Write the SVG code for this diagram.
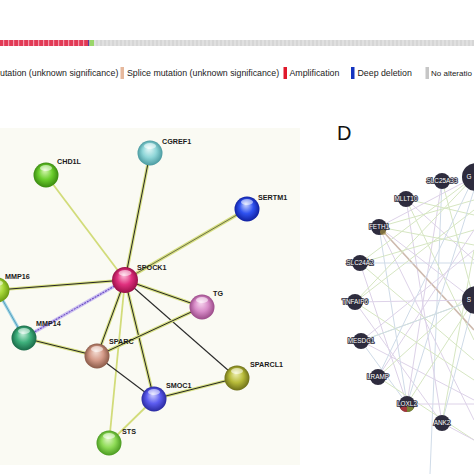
<svg xmlns="http://www.w3.org/2000/svg" width="474" height="474" viewBox="0 0 474 474">
<style>
.lg{font-family:"Liberation Sans",Arial,sans-serif;font-size:8.8px;fill:#222}
.nl{font-family:"Liberation Sans",Arial,sans-serif;font-size:7.2px;font-weight:bold;fill:#1a1a1a}
.dl{font-family:"Liberation Sans",Arial,sans-serif;font-size:6.4px;fill:#fff;stroke:#2a2838;stroke-width:1.6px;paint-order:stroke;text-anchor:middle}
.yb1{stroke:#d6df80;stroke-width:3.2;fill:none}
.yb2{stroke:#262626;stroke-width:1;fill:none}
.y{stroke:#d2dc7a;stroke-width:1.8;fill:none}
.k{stroke:#2a2a2a;stroke-width:1.1;fill:none}
.dn{fill:#2e2c3e}
.e1{stroke:#d6e6c2;stroke-width:1;fill:none}
.e2{stroke:#ddd2e8;stroke-width:1;fill:none}
.e3{stroke:#cfdbe8;stroke-width:1;fill:none}
.hl{fill:#fff;opacity:0.55}
</style>
<defs>
<pattern id="pr" width="5" height="6" patternUnits="userSpaceOnUse"><rect width="5" height="6" fill="#e23a55"/><rect x="3" width="1.2" height="6" fill="#f39bb0"/></pattern>
<pattern id="pg" width="4" height="6" patternUnits="userSpaceOnUse"><rect width="4" height="6" fill="#d6d6d6"/><rect x="2.5" width="1" height="6" fill="#ebebeb"/></pattern>
<radialGradient id="gCG" fx="0.45" fy="0.3"><stop offset="0" stop-color="#eafafa"/><stop offset="0.55" stop-color="#8fd6d8"/><stop offset="1" stop-color="#4a9aa0"/></radialGradient>
<radialGradient id="gCH" fx="0.45" fy="0.3"><stop offset="0" stop-color="#dcf8b8"/><stop offset="0.55" stop-color="#6ccf2e"/><stop offset="1" stop-color="#3a8a10"/></radialGradient>
<radialGradient id="gSE" fx="0.45" fy="0.3"><stop offset="0" stop-color="#d0daff"/><stop offset="0.55" stop-color="#2f52f0"/><stop offset="1" stop-color="#1020a0"/></radialGradient>
<radialGradient id="gSP" fx="0.45" fy="0.3"><stop offset="0" stop-color="#ffc4de"/><stop offset="0.55" stop-color="#e0307e"/><stop offset="1" stop-color="#9a1048"/></radialGradient>
<radialGradient id="gM16" fx="0.45" fy="0.3"><stop offset="0" stop-color="#eef8c0"/><stop offset="0.55" stop-color="#a8d93a"/><stop offset="1" stop-color="#6a9a10"/></radialGradient>
<radialGradient id="gM14" fx="0.45" fy="0.3"><stop offset="0" stop-color="#ccf2e0"/><stop offset="0.55" stop-color="#3eb07c"/><stop offset="1" stop-color="#1a6a48"/></radialGradient>
<radialGradient id="gSC" fx="0.45" fy="0.3"><stop offset="0" stop-color="#f6e2da"/><stop offset="0.55" stop-color="#d49a88"/><stop offset="1" stop-color="#8a5a48"/></radialGradient>
<radialGradient id="gTG" fx="0.45" fy="0.3"><stop offset="0" stop-color="#fadcf2"/><stop offset="0.55" stop-color="#d88cc8"/><stop offset="1" stop-color="#9a4a88"/></radialGradient>
<radialGradient id="gSL" fx="0.45" fy="0.3"><stop offset="0" stop-color="#f2f2b8"/><stop offset="0.55" stop-color="#b8bc3a"/><stop offset="1" stop-color="#6e7018"/></radialGradient>
<radialGradient id="gSM" fx="0.45" fy="0.3"><stop offset="0" stop-color="#d6d6ff"/><stop offset="0.55" stop-color="#5c5cf0"/><stop offset="1" stop-color="#2a2aa0"/></radialGradient>
<radialGradient id="gST" fx="0.45" fy="0.3"><stop offset="0" stop-color="#e4f8cc"/><stop offset="0.55" stop-color="#90dc58"/><stop offset="1" stop-color="#4a9a20"/></radialGradient>
</defs>
<rect width="474" height="474" fill="#ffffff"/>

<g id="oncoprint-bar">
<rect x="0" y="40" width="88" height="6" fill="url(#pr)"/>
<rect x="88" y="40" width="1.5" height="6" fill="#5b3a9e"/>
<rect x="89.5" y="40" width="4.5" height="6" fill="#9ad66a"/>
<rect x="94" y="40" width="380" height="6" fill="url(#pg)"/>
</g>

<g id="legend">
<text class="lg" x="0" y="76">utation (unknown significance)</text>
<rect x="120.5" y="67" width="3.5" height="12" fill="#e6b89c"/>
<text class="lg" x="127" y="76">Splice mutation (unknown significance)</text>
<rect x="283.5" y="67" width="3.5" height="12" fill="#e0182a"/>
<text class="lg" x="289.5" y="76">Amplification</text>
<rect x="351" y="67" width="3.5" height="12" fill="#1434c0"/>
<text class="lg" x="357.5" y="76">Deep deletion</text>
<rect x="425.5" y="67" width="3.5" height="12" fill="#c6c6c6"/>
<text class="lg" x="431" y="76" style="font-size:8px">No alteratio</text>
</g>

<rect id="panel-c-bg" x="0" y="128" width="300" height="337" fill="#fafaf3"/>

<g id="connectors-c">
<line class="y" x1="125" y1="280" x2="46" y2="175"/>
<line class="yb1" x1="125" y1="280" x2="150" y2="153"/><line class="yb2" x1="125" y1="280" x2="150" y2="153"/>
<line class="yb1" x1="125" y1="280" x2="247" y2="209"/><line class="yb2" x1="125" y1="280" x2="247" y2="209" stroke-opacity="0.6"/>
<line class="yb1" x1="125" y1="280" x2="-3" y2="290"/><line class="yb2" x1="125" y1="280" x2="-3" y2="290"/>
<line x1="125" y1="280" x2="24" y2="338" stroke="#cbbef0" stroke-width="3.6"/>
<line x1="125" y1="280" x2="24" y2="338" stroke="#6a4cc4" stroke-width="1.1" stroke-dasharray="2 1"/>
<line class="yb1" x1="125" y1="280" x2="97" y2="356"/><line class="yb2" x1="125" y1="280" x2="97" y2="356"/>
<line class="yb1" x1="125" y1="280" x2="202" y2="307"/><line class="yb2" x1="125" y1="280" x2="202" y2="307"/>
<line class="k" x1="125" y1="280" x2="237" y2="378"/>
<line class="yb1" x1="125" y1="280" x2="154" y2="399"/><line class="yb2" x1="125" y1="280" x2="154" y2="399"/>
<line class="y" x1="125" y1="280" x2="109" y2="443"/>
<line x1="-3" y1="290" x2="24" y2="338" stroke="#9fd6e6" stroke-width="3"/>
<line x1="-3" y1="290" x2="24" y2="338" stroke="#4f97b8" stroke-width="0.9"/>
<line class="yb1" x1="24" y1="338" x2="97" y2="356"/><line class="yb2" x1="24" y1="338" x2="97" y2="356"/>
<line class="yb1" x1="97" y1="356" x2="202" y2="307"/><line class="yb2" x1="97" y1="356" x2="202" y2="307"/>
<line class="k" x1="97" y1="356" x2="154" y2="399"/>
<line class="yb1" x1="154" y1="399" x2="237" y2="378"/><line class="yb2" x1="154" y1="399" x2="237" y2="378"/>
<line class="y" x1="154" y1="399" x2="109" y2="443"/>
</g>

<g id="node-CGREF1"><circle cx="150" cy="153" r="12.5" fill="url(#gCG)"/><ellipse class="hl" cx="150" cy="146" rx="6" ry="3"/><text class="nl" x="162" y="144">CGREF1</text></g>
<g id="node-CHD1L"><circle cx="46" cy="175" r="12.5" fill="url(#gCH)"/><ellipse class="hl" cx="46" cy="168" rx="6" ry="3"/><text class="nl" x="57" y="164">CHD1L</text></g>
<g id="node-SERTM1"><circle cx="247" cy="209" r="12.5" fill="url(#gSE)"/><ellipse class="hl" cx="247" cy="202" rx="6" ry="3"/><text class="nl" x="258" y="200">SERTM1</text></g>
<g id="node-SPOCK1"><circle cx="125" cy="280" r="13" fill="url(#gSP)"/><ellipse class="hl" cx="125" cy="273" rx="6.5" ry="3"/><text class="nl" x="137" y="270">SPOCK1</text></g>
<g id="node-MMP16"><circle cx="-3" cy="290" r="12.5" fill="url(#gM16)"/><ellipse class="hl" cx="-3" cy="283" rx="6" ry="3"/><text class="nl" x="5" y="279">MMP16</text></g>
<g id="node-MMP14"><circle cx="24" cy="338" r="12.5" fill="url(#gM14)"/><ellipse class="hl" cx="24" cy="331" rx="6" ry="3"/><text class="nl" x="36" y="326">MMP14</text></g>
<g id="node-SPARC"><circle cx="97" cy="356" r="12.5" fill="url(#gSC)"/><ellipse class="hl" cx="97" cy="349" rx="6" ry="3"/><text class="nl" x="109" y="344">SPARC</text></g>
<g id="node-TG"><circle cx="202" cy="307" r="12.5" fill="url(#gTG)"/><ellipse class="hl" cx="202" cy="300" rx="6" ry="3"/><text class="nl" x="213" y="296">TG</text></g>
<g id="node-SPARCL1"><circle cx="237" cy="378" r="12.5" fill="url(#gSL)"/><ellipse class="hl" cx="237" cy="371" rx="6" ry="3"/><text class="nl" x="250" y="367">SPARCL1</text></g>
<g id="node-SMOC1"><circle cx="154" cy="399" r="12.5" fill="url(#gSM)"/><ellipse class="hl" cx="154" cy="392" rx="6" ry="3"/><text class="nl" x="166" y="388">SMOC1</text></g>
<g id="node-STS"><circle cx="109" cy="443" r="12.5" fill="url(#gST)"/><ellipse class="hl" cx="109" cy="436" rx="6" ry="3"/><text class="nl" x="122" y="434">STS</text></g>

<text x="337" y="140" font-family="Liberation Sans, Arial, sans-serif" font-size="20" fill="#111">D</text>

<g id="connectors-d">
<line class="e1" x1="442" y1="181" x2="474" y2="300"/>
<line class="e2" x1="442" y1="181" x2="407" y2="404"/>
<line class="e3" x1="442" y1="181" x2="430" y2="474"/>
<line class="e1" x1="406" y1="199" x2="474" y2="340"/>
<line class="e2" x1="406" y1="199" x2="474" y2="260"/>
<line class="e2" x1="406" y1="199" x2="442" y2="423"/>
<line class="e1" x1="406" y1="199" x2="474" y2="215"/>
<line x1="379" y1="227" x2="474" y2="330" stroke="#cdb9ad" stroke-width="1.6"/>
<line class="e1" x1="379" y1="227" x2="474" y2="200"/>
<line class="e2" x1="379" y1="227" x2="474" y2="420"/>
<line class="e3" x1="379" y1="227" x2="407" y2="404"/>
<line class="e1" x1="379" y1="227" x2="474" y2="245"/>
<line class="e3" x1="360" y1="263" x2="474" y2="263"/>
<line class="e1" x1="360" y1="263" x2="474" y2="230"/>
<line class="e2" x1="360" y1="263" x2="407" y2="404"/>
<line class="e1" x1="360" y1="263" x2="474" y2="360"/>
<line class="e2" x1="355" y1="302" x2="474" y2="300"/>
<line class="e1" x1="355" y1="302" x2="474" y2="380"/>
<line class="e1" x1="355" y1="302" x2="474" y2="210"/>
<line class="e2" x1="355" y1="302" x2="442" y2="423"/>
<line class="e2" x1="361" y1="341" x2="474" y2="250"/>
<line class="e1" x1="361" y1="341" x2="474" y2="300"/>
<line class="e3" x1="361" y1="341" x2="407" y2="404"/>
<line class="e2" x1="361" y1="341" x2="474" y2="400"/>
<line class="e1" x1="378" y1="377" x2="474" y2="290"/>
<line class="e2" x1="378" y1="377" x2="474" y2="230"/>
<line class="e1" x1="378" y1="377" x2="474" y2="440"/>
<line class="e2" x1="407" y1="404" x2="474" y2="404"/>
<line class="e1" x1="407" y1="404" x2="474" y2="300"/>
<line class="e3" x1="407" y1="404" x2="474" y2="190"/>
<line class="e3" x1="442" y1="423" x2="474" y2="300"/>
<line class="e2" x1="442" y1="423" x2="474" y2="440"/>
<line class="e1" x1="442" y1="423" x2="474" y2="250"/>
<line class="e1" x1="474" y1="177" x2="360" y2="263"/>
<line class="e2" x1="474" y1="177" x2="379" y2="227"/>
<line class="e3" x1="474" y1="177" x2="378" y2="377"/>
<line class="e1" x1="474" y1="177" x2="355" y2="302"/>
<line class="e2" x1="474" y1="300" x2="379" y2="227"/>
<line class="e3" x1="474" y1="300" x2="361" y2="341"/>
</g>

<g id="node-G"><circle class="dn" cx="476" cy="177" r="14"/><text class="dl" x="469" y="179">G</text></g>
<g id="node-S"><circle class="dn" cx="476" cy="300" r="14"/><text class="dl" x="469" y="302">S</text></g>
<g id="node-SLC25A33"><circle class="dn" cx="442" cy="181" r="8"/><text class="dl" x="442" y="183">SLC25A33</text></g>
<g id="node-MLLT10"><circle class="dn" cx="406" cy="199" r="8"/><text class="dl" x="406" y="201">MLLT10</text></g>
<g id="node-FETH1"><circle class="dn" cx="379" cy="227" r="8"/><circle cx="383" cy="232" r="3" fill="#a08a40" opacity="0.7"/><text class="dl" x="379" y="229">FETH1</text></g>
<g id="node-SLC24A2"><circle class="dn" cx="360" cy="263" r="8"/><text class="dl" x="360" y="265">SLC24A2</text></g>
<g id="node-TNFAIP6"><circle class="dn" cx="355" cy="302" r="8"/><text class="dl" x="355" y="304">TNFAIP6</text></g>
<g id="node-MESDC1"><circle class="dn" cx="361" cy="341" r="8"/><text class="dl" x="361" y="343">MESDC1</text></g>
<g id="node-RAMP"><circle class="dn" cx="378" cy="377" r="8"/><text class="dl" x="378" y="379">LRAMP</text></g>
<g id="node-LOXL2"><circle class="dn" cx="407" cy="404" r="8"/><path d="M400 408 A8 8 0 0 0 407 412 L407 404Z" fill="#c03a3a" opacity="0.8"/><path d="M407 412 A8 8 0 0 0 414 408 L407 404Z" fill="#8a9a30" opacity="0.8"/><text class="dl" x="407" y="406">LOXL2</text></g>
<g id="node-ANK"><circle class="dn" cx="442" cy="423" r="8"/><text class="dl" x="442" y="425">ANK2</text></g>
</svg>
